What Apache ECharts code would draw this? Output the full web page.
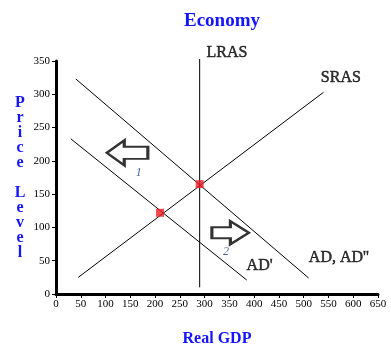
<!DOCTYPE html>
<html><head><meta charset="utf-8">
<script src="https://cdn.jsdelivr.net/npm/echarts@6/dist/echarts.min.js"></script>
<style>html,body{margin:0;padding:0;background:#fff}#c{width:391px;height:352px}</style>
</head><body><div id="c"></div>
<script>
// Data (value units of the chart)
const xRange = [0, 650, 50];   // min, max, interval
const yRange = [0, 350, 50];
const lras = [[290, 10], [290, 353]];
const sras = [[45, 25], [540, 303]];
const ad = [[40, 323], [510, 24]];
const adPrime = [[30, 233], [385, 21]];
const equilibria = [[290, 165], [210, 122]];
const curveLabels = [[345, 362, 'LRAS'], [575, 325, 'SRAS'], [571, 54, "AD, AD''"], [411, 43, "AD'"]];
const arrowsLeft = [[144, 212]];
const arrowsRight = [[352, 92]];
const arrowNums = [[167, 182, '1'], [343, 63, '2']];

const serif = 'Liberation Serif';
const chart = echarts.init(document.getElementById('c'));
const lineStyle = { color: '#000', width: 1 };
const mkLine = (d) => ({ type: 'line', data: d, symbol: 'none', lineStyle, silent: true, clip: false, animation: false });

chart.setOption({
  animation: false,
  backgroundColor: '#fff',
  title: {
    text: 'Economy', left: 179, top: 7,
    textStyle: { fontFamily: serif, fontSize: 19, fontWeight: 'bold', color: '#1414ff' }
  },
  grid: { left: 56, right: 13, top: 61, bottom: 57 },
  xAxis: {
    type: 'value', min: xRange[0], max: xRange[1], interval: xRange[2],
    name: 'Real GDP', nameLocation: 'middle', nameGap: 37,
    nameTextStyle: { fontFamily: serif, fontSize: 16, fontWeight: 'bold', color: '#1414ff' },
    axisLine: { lineStyle: { color: '#000', width: 3 } },
    axisTick: { length: 4, lineStyle: { color: '#000', width: 1 } },
    axisLabel: { fontFamily: serif, fontSize: 11, color: '#000', margin: 5 },
    splitLine: { show: false }
  },
  yAxis: {
    type: 'value', min: yRange[0], max: yRange[1], interval: yRange[2],
    axisLine: { show: true, lineStyle: { color: '#000', width: 3 } },
    axisTick: { show: true, length: 4, lineStyle: { color: '#000', width: 1 } },
    axisLabel: { fontFamily: serif, fontSize: 11, color: '#000', margin: 6 },
    splitLine: { show: false }
  },
  graphic: [{
    type: 'text', x: 20, y: 178,
    style: {
      text: 'P\nr\ni\nc\ne\n \nL\ne\nv\ne\nl',
      fontFamily: serif, fontSize: 16, fontWeight: 'bold', fill: '#1414ff',
      lineHeight: 15, align: 'center', verticalAlign: 'middle'
    }
  }],
  series: [
    mkLine(lras), mkLine(sras), mkLine(ad), mkLine(adPrime),
    {
      type: 'scatter', data: equilibria, symbol: 'rect', symbolSize: 8,
      itemStyle: { color: '#ee1c25' }, z: 5
    },
    {
      type: 'scatter', data: arrowsLeft, clip: false, z: 4,
      symbol: 'path://M40,7L17,7L17,0L0,13.5L17,27L17,20L40,20Z', symbolSize: [41, 25],
      itemStyle: { color: '#fff', borderColor: '#000', borderWidth: 2.5 }
    },
    {
      type: 'scatter', data: arrowsRight, clip: false, z: 4,
      symbol: 'path://M0,7L20,7L20,0L40,13.5L20,27L20,20L0,20Z', symbolSize: [37, 23],
      itemStyle: { color: '#fff', borderColor: '#000', borderWidth: 2.5 }
    },
    {
      type: 'scatter', data: curveLabels, clip: false, symbolSize: 1,
      itemStyle: { color: 'rgba(0,0,0,0)' },
      label: { show: true, position: 'inside', formatter: p => p.data[2],
        fontFamily: serif, fontSize: 16, color: '#000',
        textBorderColor: '#000', textBorderWidth: 0.5 }
    },
    {
      type: 'scatter', data: arrowNums, clip: false, symbolSize: 1,
      itemStyle: { color: 'rgba(0,0,0,0)' },
      label: { show: true, position: 'inside', formatter: p => p.data[2],
        fontFamily: serif, fontSize: 12, fontStyle: 'italic', color: '#1f3c88' }
    }
  ]
});
</script></body></html>
